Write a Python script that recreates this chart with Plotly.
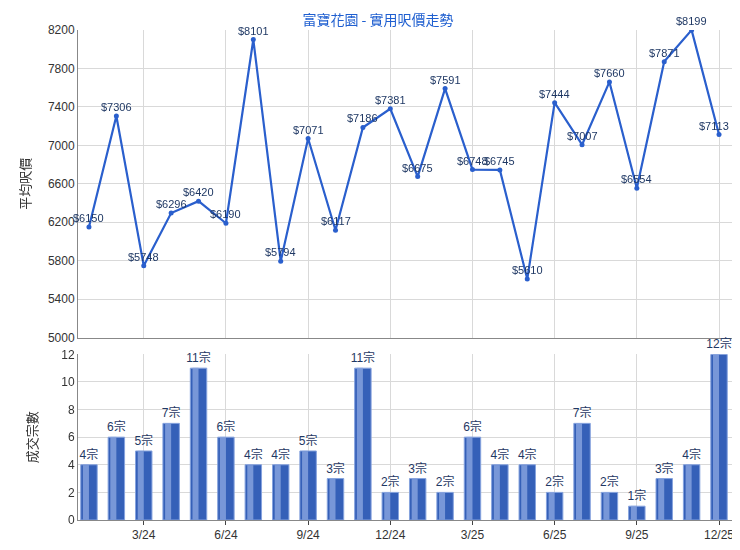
import plotly.graph_objects as go
from plotly.subplots import make_subplots

# monthly data, 1/24 .. 12/25
months = [f"{m}/{y}" for y in (24, 25) for m in range(1, 13)]
avg_price = [6150, 7306, 5748, 6296, 6420, 6190, 8101, 5794, 7071, 6117, 7186, 7381,
             6675, 7591, 6748, 6745, 5610, 7444, 7007, 7660, 6554, 7871, 8199, 7113]
deals = [4, 6, 5, 7, 11, 6, 4, 4, 5, 3, 11, 2,
         3, 2, 6, 4, 4, 2, 7, 2, 1, 3, 4, 12]
tick_idx = [2, 5, 8, 11, 14, 17, 20, 23]
tick_text = [months[i] for i in tick_idx]

x = list(range(len(months)))
label_col = "#1f3864"
font = "Liberation Sans, Arial, sans-serif"

fig = make_subplots(rows=2, cols=1, shared_xaxes=False, vertical_spacing=0.034,
                    row_heights=[0.65, 0.35])

fig.add_trace(go.Scatter(
    x=x, y=avg_price, mode="lines+markers",
    line=dict(color="#2a5fcd", width=2.2), marker=dict(size=5, color="#2a5fcd"),
    hoverinfo="x+y", showlegend=False), row=1, col=1)
for i, v in enumerate(avg_price):
    fig.add_annotation(x=i, y=v, text=f"${v}", showarrow=False, yshift=9,
                       xshift=-5 if i == len(x) - 1 else 0,
                       font=dict(size=11, color=label_col), row=1, col=1)

fig.add_trace(go.Bar(
    x=x, y=deals, width=0.6, marker=dict(color="#3560b8", line=dict(color="#86a3de", width=1)),
    text=[f"{v}宗" for v in deals], textposition="outside", constraintext="none",
    textfont=dict(size=12, color=label_col), cliponaxis=False, showlegend=False), row=2, col=1)
# lighter stripe to hint at the cylinder shading
fig.add_trace(go.Bar(
    x=x, y=deals, width=0.22, offset=-0.22, marker=dict(color="#8aa6e0", line=dict(width=0)),
    opacity=0.8, hoverinfo="skip", showlegend=False), row=2, col=1)

axis_common = dict(range=[-0.4, 23.62], tickmode="array", tickvals=tick_idx,
                   showgrid=True, gridcolor="#d9d9d9", zeroline=False,
                   showline=True, linecolor="#888", mirror=False, automargin=False)
fig.update_xaxes(**axis_common, ticktext=[""] * len(tick_idx), row=1, col=1)
fig.update_xaxes(**axis_common, ticktext=tick_text, ticks="outside", ticklen=4,
                 tickfont=dict(size=12, color="#333"), row=2, col=1)

fig.update_yaxes(range=[5000, 8200], tick0=5000, dtick=400, gridcolor="#d9d9d9", showline=True,
                 linecolor="#888", tickfont=dict(size=12, color="#333"), automargin=False,
                 title=dict(text="平均呎價", font=dict(size=13, color="#333"), standoff=14),
                 row=1, col=1)
fig.update_yaxes(range=[0, 12], dtick=2, gridcolor="#d9d9d9", showline=True,
                 linecolor="#888", tickfont=dict(size=12, color="#333"), automargin=False,
                 title=dict(text="成交宗數", font=dict(size=13, color="#333"), standoff=20),
                 row=2, col=1)

fig.update_layout(
    width=740, height=550, barmode="overlay",
    title=dict(text="富寶花園 - 實用呎價走勢", x=0.5, xanchor="center", y=0.987, automargin=False,
               font=dict(size=14, color="#1f5fd0", family="Noto Sans CJK TC")),
    font=dict(family=font + ", Noto Sans CJK TC"),
    margin=dict(l=70, r=12, t=22, b=38),
    plot_bgcolor="white", paper_bgcolor="white",
)

fig.write_html("out.html")
